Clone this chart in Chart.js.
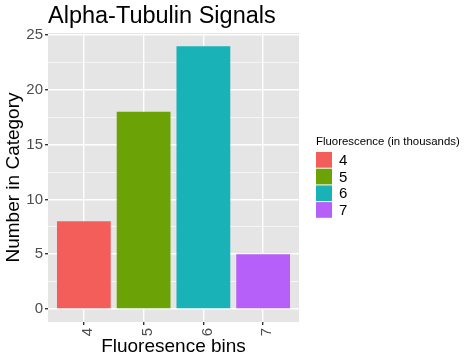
<!DOCTYPE html>
<html>
<head>
<meta charset="utf-8">
<script src="https://cdn.jsdelivr.net/npm/chart.js@4/dist/chart.umd.min.js"></script>
<style>
  html, body { margin: 0; padding: 0; background: #ffffff; }
  #wrap { width: 474px; height: 362px; position: relative; }
</style>
</head>
<body>
<div id="wrap"><canvas id="c" width="474" height="362"></canvas></div>
<script>
const chartTitle = 'Alpha-Tubulin Signals';
const xTitle = 'Fluoresence bins';
const yTitle = 'Number in Category';
const legendTitle = 'Fluorescence (in thousands)';
const categories = ['4', '5', '6', '7'];
const counts = [8, 18, 24, 5];
const barColors = ['#F35E5A', '#6BA205', '#19B2B6', '#B65FF9'];
const yTickValues = [0, 5, 10, 15, 20, 25];

const FONT = "'Liberation Sans', Arial, sans-serif";

// major + minor (midpoint) grid values for y
const yGridValues = [];
yTickValues.forEach((v, i) => {
  yGridValues.push(v);
  if (i < yTickValues.length - 1) yGridValues.push((v + yTickValues[i + 1]) / 2);
});

const panelBg = {
  id: 'panelBg',
  beforeDraw(chart) {
    const { ctx, chartArea: a } = chart;
    ctx.save();
    ctx.fillStyle = '#E5E5E5';
    ctx.fillRect(a.left, a.top, a.right - a.left, a.bottom - a.top);
    ctx.restore();
  }
};

const texts = {
  id: 'texts',
  afterDraw(chart) {
    const { ctx, chartArea: a } = chart;
    ctx.save();
    ctx.fillStyle = '#000000';
    // main title
    ctx.font = '23.5px ' + FONT;
    ctx.textAlign = 'left';
    ctx.textBaseline = 'alphabetic';
    ctx.fillText(chartTitle, a.left, 23);
    // x title
    ctx.font = '19px ' + FONT;
    ctx.textAlign = 'center';
    ctx.fillText(xTitle, (a.left + a.right) / 2, 352);
    // y title
    ctx.save();
    ctx.translate(19, (a.top + a.bottom) / 2);
    ctx.rotate(-Math.PI / 2);
    ctx.fillText(yTitle, 0, 0);
    ctx.restore();
    // legend
    ctx.textAlign = 'left';
    ctx.font = '11.4px ' + FONT;
    ctx.fillText(legendTitle, 316, 145);
    const keyTop = 152, keyH = 16.7;
    categories.forEach((c, i) => {
      const y = keyTop + i * keyH;
      ctx.fillStyle = barColors[i];
      ctx.fillRect(316, y, 16, keyH - 1);
      ctx.fillStyle = '#000000';
      ctx.font = '15px ' + FONT;
      ctx.textBaseline = 'middle';
      ctx.fillText(c, 339, y + keyH / 2 + 0.5);
    });
    ctx.restore();
  }
};

new Chart(document.getElementById('c'), {
  type: 'bar',
  data: {
    datasets: [{
      data: categories.map((c, i) => ({ x: i + 1, y: counts[i] })),
      backgroundColor: barColors,
      borderWidth: 0,
      barPercentage: 0.9,
      categoryPercentage: 1.0
    }]
  },
  options: {
    responsive: false,
    animation: false,
    layout: { padding: { top: 33, right: 175, left: 0, bottom: 0 } },
    plugins: {
      legend: { display: false },
      title: { display: false },
      tooltip: { enabled: false }
    },
    scales: {
      x: {
        type: 'linear',
        offset: false,
        min: 0.4,
        max: 4.6,
        afterBuildTicks(scale) {
          scale.ticks = categories.map((c, i) => ({ value: i + 1 }));
        },
        afterFit(scale) { scale.height = 40; },
        ticks: {
          callback: (v) => categories[Math.round(v) - 1],
          minRotation: 90,
          maxRotation: 90,
          padding: 3,
          labelOffset: 4,
          color: '#4D4D4D',
          font: { family: FONT, size: 15 }
        },
        grid: {
          offset: false,
          color: '#FFFFFF',
          lineWidth: 1.4,
          tickColor: '#333333',
          tickLength: 3,
          drawTicks: true
        },
        border: { display: false }
      },
      y: {
        type: 'linear',
        min: -1.2,
        max: 25.2,
        afterBuildTicks(scale) {
          scale.ticks = yGridValues.map(v => ({ value: v }));
        },
        afterFit(scale) { scale.width = 48; },
        ticks: {
          callback: (v) => (yTickValues.includes(v) ? String(v) : ''),
          padding: 2,
          color: '#4D4D4D',
          font: { family: FONT, size: 15 },
          autoSkip: false
        },
        grid: {
          color: '#FFFFFF',
          lineWidth: (ctx) => (yTickValues.includes(ctx.tick && ctx.tick.value) ? 1.4 : 0.6),
          tickColor: (ctx) => (yTickValues.includes(ctx.tick && ctx.tick.value) ? '#333333' : 'rgba(0,0,0,0)'),
          tickLength: 3,
          drawTicks: true
        },
        border: { display: false }
      }
    }
  },
  plugins: [panelBg, texts]
});
</script>
</body>
</html>
